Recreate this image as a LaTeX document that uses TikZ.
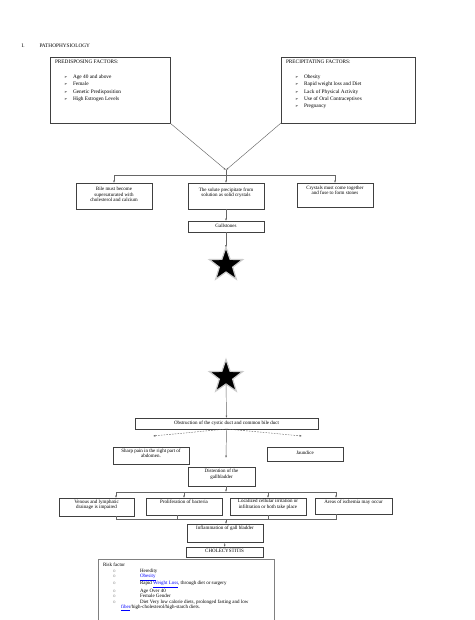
\documentclass[tikz,border=0pt]{standalone}
\usepackage{fontspec}
\setmainfont{Liberation Serif}
\newfontfamily\dejavu{DejaVu Sans}
\usepackage{tikz}
\usetikzlibrary{arrows.meta,shapes.geometric,shadows}
\newcommand{\flowtext}[4]{\parbox[t][#2][t]{#1}{\centering\vspace*{#3}#4\par}}
\newcommand{\factor}[1]{\hspace*{14pt}\makebox[9pt][l]{\dejavu\fontsize{4}{4}\selectfont ➢}#1\\}
\newcommand{\riskitem}[1]{\hspace*{15pt}\makebox[27pt][l]{\textcolor{black!45}{o}}#1\\}
\newcommand{\weblink}[1]{\textcolor{blue}{\underline{#1}}}

\begin{document}
\begin{tikzpicture}[x=1pt,y=-1pt]
\tikzstyle{every node}=[font=\fontsize{5}{5.2}\selectfont]
\tikzstyle{boxline}=[draw=black!75,line width=0.5pt,fill=white,inner sep=0pt,outer sep=0pt,anchor=north west]
\tikzstyle{flow}=[boxline,drop shadow={shadow xshift=0.8pt,shadow yshift=-0.8pt,fill=black!30,opacity=1}]
\tikzstyle{conn}=[draw=black!60,line width=0.45pt]
\tikzstyle{arr}=[-{Latex[length=2.4pt,width=1.9pt]}]
\tikzstyle{bigstar}=[star,star points=5,star point ratio=2.5,minimum size=35pt,inner sep=0pt,outer sep=0pt,fill=black,draw=black!20,line width=1.2pt]
\useasboundingbox (0,0) rectangle (474,620);
\fill[white] (0,0) rectangle (474,620);

% heading
\node[anchor=base west,font=\fontsize{5.3}{6}\selectfont] (num) at (18,48) {I.};
\node[anchor=base west,font=\fontsize{5.3}{6}\selectfont] (heading) at (36,48) {PATHOPHYSIOLOGY};

% factor boxes
\node[flow] (predis) at (50,57) {\parbox[t][66pt][t]{120pt}{\raggedright\fontsize{5.3}{7.4}\selectfont\vspace*{3pt}\hspace*{5pt}PREDISPOSING FACTORS:\\[7.4pt]
  \factor{Age 40 and above}\factor{Female}\factor{Genetic Predisposition}\factor{High Estrogen Levels}}};
\node[flow] (precip) at (281,57) {\parbox[t][66pt][t]{134pt}{\raggedright\fontsize{5.3}{7.4}\selectfont\vspace*{3pt}\hspace*{5pt}PRECIPITATING FACTORS:\\[7.4pt]
  \factor{Obesity}\factor{Rapid weight loss and Diet}\factor{Lack of Physical Activity}\factor{Use of Oral Contraceptives}\factor{Pregnancy}}};

% stone formation
\node[flow] (bile) at (76,183) {\flowtext{76pt}{26pt}{4.5pt}{Bile must become\\supersaturated with\\cholesterol and calcium}};
\node[flow] (solute) at (188,183) {\flowtext{76pt}{26pt}{4.5pt}{The solute precipitate from\\solution as solid crystals}};
\node[flow] (fuse) at (297,183) {\flowtext{76pt}{24pt}{3pt}{Crystals must come together\\and fuse to form stones}};
\node[flow] (gall) at (188,221) {\flowtext{76pt}{11pt}{3.2pt}{Gallstones}};
\node[bigstar] (star1) at (226,265) {};
\node[bigstar] (star2) at (226,377) {};

% obstruction and after
\node[flow] (obstr) at (135,418) {\flowtext{183pt}{11pt}{3pt}{Obstruction of the cystic duct and common bile duct}};
\node[flow] (pain) at (113,447) {\flowtext{76pt}{17pt}{1.8pt}{Sharp pain in the right part of\\abdomen.}};
\node[flow] (jaund) at (267,447) {\flowtext{76pt}{14pt}{4.5pt}{Jaundice}};
\node[flow] (dist) at (188,467) {\flowtext{67pt}{19pt}{2.4pt}{Distention of the\\gallbladder}};
\node[flow] (venous) at (59,498) {\flowtext{75pt}{18pt}{1.8pt}{Venous and lymphatic\\drainage is impaired}};
\node[flow] (prolif) at (146,498) {\flowtext{76pt}{17pt}{1.8pt}{Proliferation of bacteria}};
\node[flow] (local) at (230,498) {\flowtext{76pt}{17pt}{1.5pt}{Localized cellular irritation or\\infiltration or both take place}};
\node[flow] (ischem) at (315,498) {\flowtext{77pt}{16pt}{1.5pt}{Areas of ischemia may occur}};
\node[flow] (inflam) at (187,524) {\flowtext{76pt}{18pt}{2pt}{Inflammation of gall bladder}};
\node[flow] (chole) at (186,547) {\flowtext{77pt}{10pt}{2pt}{CHOLECYSTITIS}};
\node[boxline,draw=black!50] (risk) at (98,559) {\parbox[t][75pt][t]{176pt}{\raggedright\fontsize{5}{5.4}\selectfont\vspace*{3.5pt}\hspace*{5pt}Risk factor\\[0.6pt]
  \riskitem{Heredity}\riskitem{\weblink{Obesity}}\riskitem{Rapid \weblink{Weight Loss}, through diet or surgery}\riskitem{Age Over 40}\riskitem{Female Gender}
  \riskitem{Diet Very low calorie diets, prolonged fasting and low}\hspace*{23pt}\weblink{fiber}/high-cholesterol/high-starch diets.}};

% connectors
\coordinate (meet) at (226,170);
\coordinate (split) at (226,175);
\draw[conn,arr] (predis.south east) -- (meet);
\draw[conn,arr] (precip.south west) -- (meet);
\draw[conn] (meet) -- (split);
\draw[conn,arr] (split) -| (bile.north);
\draw[conn,arr] (split) -- (solute.north);
\draw[conn,arr] (split) -| (fuse.north);
\draw[conn,arr] (solute) -- (gall);
\draw[conn,arr] (gall) -- (star1);
\draw[conn,arr] (star2) -- (obstr);

\coordinate (painhead) at (153,436);
\coordinate (jaunhead) at (302,436);
\coordinate (disthead) at (226,458);
\draw[conn,arr,dash pattern=on 1.6pt off 1.2pt] (obstr.south) -- (painhead);
\draw[conn,arr,dash pattern=on 1.6pt off 1.2pt] (obstr.south) -- (jaunhead);
\draw[conn,arr] (obstr.south) -- (disthead);

\coordinate (split2) at (226,492);
\draw[conn,arr] (split2 |- dist.south) -- (split2);
\draw[conn,arr] (split2) -| ([xshift=19.5pt]venous.north);
\draw[conn,arr] (split2) -| (prolif.north);
\draw[conn,arr] (split2) -| (local.north);
\draw[conn,arr] (split2) -| ([xshift=-17.5pt]ischem.north);

\coordinate (join) at (226,519);
\draw[conn] ([xshift=19.5pt]venous.south) |- (join);
\draw[conn] ([xshift=-7pt]prolif.south) |- (join);
\draw[conn] (local.south) |- (join);
\draw[conn] ([xshift=-17.5pt]ischem.south) |- (join);
\draw[conn,arr] (join) -- (join |- inflam.north);
\draw[conn,arr] (inflam) -- (chole);
\end{tikzpicture}
\end{document}
